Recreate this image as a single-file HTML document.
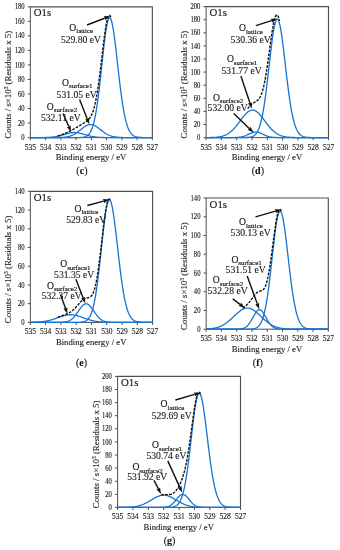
<!DOCTYPE html>
<html><head><meta charset="utf-8"><title>O1s XPS spectra</title>
<style>
html,body{margin:0;padding:0;background:#fff;}
body{width:340px;height:550px;overflow:hidden;}
svg{display:block;font-family:"Liberation Serif",serif;}
text{stroke:#1a1a1a;stroke-width:0.12px;}
tspan.s{stroke-width:0.2px;}
</style></head><body>
<svg width="340" height="550" viewBox="0 0 340 550">
<rect width="340" height="550" fill="#fff"/>
<g>
<path d="M30.35 6.8H152.35V137.6" fill="none" stroke="#505050" stroke-width="1.15"/>
<path d="M30.35 6.4V137.6H152.35" fill="none" stroke="#4d4d4d" stroke-width="1"/>
<path d="M27.75 137.6H30.35M27.75 123.07H30.35M27.75 108.53H30.35M27.75 94H30.35M27.75 79.47H30.35M27.75 64.93H30.35M27.75 50.4H30.35M27.75 35.87H30.35M27.75 21.33H30.35M27.75 6.8H30.35M30.35 137.6V140.2M45.6 137.6V140.2M60.85 137.6V140.2M76.1 137.6V140.2M91.35 137.6V140.2M106.6 137.6V140.2M121.85 137.6V140.2M137.1 137.6V140.2M152.35 137.6V140.2" fill="none" stroke="#4d4d4d" stroke-width="1"/>
<g fill="#1a1a1a">
<g text-anchor="end" font-size="7.45">
<text transform="translate(24.65 140.2) scale(.895 1)">0</text>
<text transform="translate(24.65 125.67) scale(.895 1)">20</text>
<text transform="translate(24.65 111.13) scale(.895 1)">40</text>
<text transform="translate(24.65 96.6) scale(.895 1)">60</text>
<text transform="translate(24.65 82.07) scale(.895 1)">80</text>
<text transform="translate(24.65 67.53) scale(.895 1)">100</text>
<text transform="translate(24.65 53) scale(.895 1)">120</text>
<text transform="translate(24.65 38.47) scale(.895 1)">140</text>
<text transform="translate(24.65 23.93) scale(.895 1)">160</text>
<text transform="translate(24.65 9.4) scale(.895 1)">180</text>
</g><g text-anchor="middle" font-size="7.5">
<text x="30.35" y="149.55">535</text>
<text x="45.6" y="149.55">534</text>
<text x="60.85" y="149.55">533</text>
<text x="76.1" y="149.55">532</text>
<text x="91.35" y="149.55">531</text>
<text x="106.6" y="149.55">530</text>
<text x="121.85" y="149.55">529</text>
<text x="137.1" y="149.55">528</text>
<text x="152.35" y="149.55">527</text>
</g></g>
<text x="91.05" y="160.2" text-anchor="middle" font-size="8.7" fill="#1a1a1a">Binding energy / eV</text>
<text transform="translate(11.25 84.7) rotate(-90)" text-anchor="middle" font-size="8.85" fill="#1a1a1a">Counts / s×10<tspan font-size="5.4" dy="-3">3</tspan><tspan dy="3"> (Residuals x 5)</tspan></text>
<text x="33.75" y="16.3" font-size="10.8" fill="#1a1a1a">O1s</text>
<text x="81.9" y="174.1" text-anchor="middle" font-size="10" fill="#111">(<tspan font-weight="bold">c</tspan>)</text>
<path d="M30.35 137.6 L30.96 137.6 L31.57 137.6 L32.18 137.6 L32.79 137.6 L33.4 137.6 L34.01 137.6 L34.62 137.6 L35.23 137.6 L35.84 137.6 L36.45 137.6 L37.06 137.6 L37.67 137.6 L38.28 137.6 L38.89 137.6 L39.5 137.6 L40.11 137.6 L40.72 137.6 L41.33 137.6 L41.94 137.6 L42.55 137.6 L43.16 137.6 L43.77 137.6 L44.38 137.6 L44.99 137.6 L45.6 137.6 L46.21 137.6 L46.82 137.6 L47.43 137.6 L48.04 137.6 L48.65 137.6 L49.26 137.6 L49.87 137.6 L50.48 137.6 L51.09 137.6 L51.7 137.6 L52.31 137.6 L52.92 137.6 L53.53 137.6 L54.14 137.6 L54.75 137.6 L55.36 137.6 L55.97 137.6 L56.58 137.6 L57.19 137.6 L57.8 137.6 L58.41 137.6 L59.02 137.6 L59.63 137.6 L60.24 137.6 L60.85 137.6 L61.46 137.6 L62.07 137.6 L62.68 137.6 L63.29 137.6 L63.9 137.6 L64.51 137.6 L65.12 137.6 L65.73 137.6 L66.34 137.6 L66.95 137.6 L67.56 137.6 L68.17 137.6 L68.78 137.6 L69.39 137.6 L70 137.6 L70.61 137.6 L71.22 137.6 L71.83 137.6 L72.44 137.6 L73.05 137.6 L73.66 137.6 L74.27 137.6 L74.88 137.59 L75.49 137.59 L76.1 137.59 L76.71 137.58 L77.32 137.58 L77.93 137.57 L78.54 137.56 L79.15 137.55 L79.76 137.53 L80.37 137.5 L80.98 137.47 L81.59 137.42 L82.2 137.37 L82.81 137.29 L83.42 137.2 L84.03 137.08 L84.64 136.92 L85.25 136.73 L85.86 136.49 L86.47 136.2 L87.08 135.83 L87.69 135.39 L88.3 134.85 L88.91 134.19 L89.52 133.41 L90.13 132.49 L90.74 131.39 L91.35 130.11 L91.96 128.61 L92.57 126.89 L93.18 124.91 L93.79 122.66 L94.4 120.12 L95.01 117.27 L95.62 114.1 L96.23 110.61 L96.84 106.78 L97.45 102.63 L98.06 98.17 L98.67 93.41 L99.28 88.38 L99.89 83.11 L100.5 77.65 L101.11 72.05 L101.72 66.36 L102.33 60.66 L102.94 55.01 L103.55 49.49 L104.16 44.18 L104.77 39.16 L105.38 34.5 L105.99 30.29 L106.6 26.59 L107.21 23.47 L107.82 20.98 L108.43 19.17 L109.04 18.07 L109.65 17.7 L110.26 18.05 L110.87 19.09 L111.48 20.81 L112.09 23.17 L112.7 26.13 L113.31 29.64 L113.92 33.64 L114.53 38.06 L115.14 42.83 L115.75 47.88 L116.36 53.13 L116.97 58.52 L117.58 63.96 L118.19 69.4 L118.8 74.78 L119.41 80.04 L120.02 85.14 L120.63 90.04 L121.24 94.7 L121.85 99.1 L122.46 103.22 L123.07 107.06 L123.68 110.6 L124.29 113.85 L124.9 116.8 L125.51 119.48 L126.12 121.89 L126.73 124.04 L127.34 125.96 L127.95 127.64 L128.56 129.13 L129.17 130.42 L129.78 131.55 L130.39 132.52 L131 133.36 L131.61 134.07 L132.22 134.68 L132.83 135.19 L133.44 135.62 L134.05 135.98 L134.66 136.28 L135.27 136.53 L135.88 136.74 L136.49 136.91 L137.1 137.05 L137.71 137.16 L138.32 137.25 L138.93 137.33 L139.54 137.38 L140.15 137.43 L140.76 137.47 L141.37 137.5 L141.98 137.52 L142.59 137.54 L143.2 137.55 L143.81 137.56 L144.42 137.57 L145.03 137.58 L145.64 137.58 L146.25 137.59 L146.86 137.59 L147.47 137.59 L148.08 137.6 L148.69 137.6 L149.3 137.6 L149.91 137.6 L150.52 137.6 L151.13 137.6 L151.74 137.6 L152.35 137.6" fill="none" stroke="#1573d3" stroke-width="1.3" stroke-linejoin="round"/>
<path d="M30.35 137.6 L30.96 137.6 L31.57 137.6 L32.18 137.6 L32.79 137.6 L33.4 137.6 L34.01 137.6 L34.62 137.6 L35.23 137.6 L35.84 137.6 L36.45 137.6 L37.06 137.6 L37.67 137.6 L38.28 137.6 L38.89 137.6 L39.5 137.6 L40.11 137.6 L40.72 137.6 L41.33 137.6 L41.94 137.6 L42.55 137.6 L43.16 137.6 L43.77 137.6 L44.38 137.6 L44.99 137.6 L45.6 137.6 L46.21 137.6 L46.82 137.6 L47.43 137.6 L48.04 137.6 L48.65 137.6 L49.26 137.6 L49.87 137.6 L50.48 137.6 L51.09 137.59 L51.7 137.59 L52.31 137.59 L52.92 137.59 L53.53 137.59 L54.14 137.58 L54.75 137.58 L55.36 137.57 L55.97 137.57 L56.58 137.56 L57.19 137.55 L57.8 137.54 L58.41 137.53 L59.02 137.51 L59.63 137.49 L60.24 137.47 L60.85 137.45 L61.46 137.42 L62.07 137.38 L62.68 137.34 L63.29 137.29 L63.9 137.24 L64.51 137.17 L65.12 137.1 L65.73 137.02 L66.34 136.92 L66.95 136.82 L67.56 136.7 L68.17 136.56 L68.78 136.41 L69.39 136.25 L70 136.06 L70.61 135.86 L71.22 135.63 L71.83 135.39 L72.44 135.12 L73.05 134.84 L73.66 134.53 L74.27 134.2 L74.88 133.84 L75.49 133.47 L76.1 133.08 L76.71 132.66 L77.32 132.23 L77.93 131.79 L78.54 131.33 L79.15 130.86 L79.76 130.38 L80.37 129.89 L80.98 129.41 L81.59 128.92 L82.2 128.44 L82.81 127.97 L83.42 127.52 L84.03 127.08 L84.64 126.67 L85.25 126.28 L85.86 125.92 L86.47 125.6 L87.08 125.31 L87.69 125.07 L88.3 124.86 L88.91 124.71 L89.52 124.6 L90.13 124.53 L90.74 124.52 L91.35 124.56 L91.96 124.64 L92.57 124.78 L93.18 124.96 L93.79 125.18 L94.4 125.45 L95.01 125.76 L95.62 126.1 L96.23 126.47 L96.84 126.87 L97.45 127.3 L98.06 127.74 L98.67 128.21 L99.28 128.68 L99.89 129.16 L100.5 129.65 L101.11 130.13 L101.72 130.62 L102.33 131.09 L102.94 131.56 L103.55 132.01 L104.16 132.45 L104.77 132.87 L105.38 133.28 L105.99 133.66 L106.6 134.02 L107.21 134.36 L107.82 134.68 L108.43 134.98 L109.04 135.26 L109.65 135.51 L110.26 135.75 L110.87 135.96 L111.48 136.15 L112.09 136.33 L112.7 136.49 L113.31 136.63 L113.92 136.76 L114.53 136.87 L115.14 136.97 L115.75 137.06 L116.36 137.14 L116.97 137.21 L117.58 137.27 L118.19 137.32 L118.8 137.36 L119.41 137.4 L120.02 137.43 L120.63 137.46 L121.24 137.48 L121.85 137.5 L122.46 137.52 L123.07 137.53 L123.68 137.55 L124.29 137.56 L124.9 137.56 L125.51 137.57 L126.12 137.58 L126.73 137.58 L127.34 137.58 L127.95 137.59 L128.56 137.59 L129.17 137.59 L129.78 137.59 L130.39 137.6 L131 137.6 L131.61 137.6 L132.22 137.6 L132.83 137.6 L133.44 137.6 L134.05 137.6 L134.66 137.6 L135.27 137.6 L135.88 137.6 L136.49 137.6 L137.1 137.6 L137.71 137.6 L138.32 137.6 L138.93 137.6 L139.54 137.6 L140.15 137.6 L140.76 137.6 L141.37 137.6 L141.98 137.6 L142.59 137.6 L143.2 137.6 L143.81 137.6 L144.42 137.6 L145.03 137.6 L145.64 137.6 L146.25 137.6 L146.86 137.6 L147.47 137.6 L148.08 137.6 L148.69 137.6 L149.3 137.6 L149.91 137.6 L150.52 137.6 L151.13 137.6 L151.74 137.6 L152.35 137.6" fill="none" stroke="#1573d3" stroke-width="1.3" stroke-linejoin="round"/>
<path d="M30.35 137.6 L30.96 137.6 L31.57 137.6 L32.18 137.6 L32.79 137.6 L33.4 137.6 L34.01 137.6 L34.62 137.6 L35.23 137.6 L35.84 137.6 L36.45 137.59 L37.06 137.59 L37.67 137.59 L38.28 137.59 L38.89 137.59 L39.5 137.58 L40.11 137.58 L40.72 137.58 L41.33 137.57 L41.94 137.56 L42.55 137.56 L43.16 137.55 L43.77 137.54 L44.38 137.53 L44.99 137.51 L45.6 137.5 L46.21 137.48 L46.82 137.46 L47.43 137.44 L48.04 137.41 L48.65 137.38 L49.26 137.35 L49.87 137.31 L50.48 137.26 L51.09 137.21 L51.7 137.16 L52.31 137.1 L52.92 137.03 L53.53 136.96 L54.14 136.88 L54.75 136.79 L55.36 136.69 L55.97 136.59 L56.58 136.48 L57.19 136.36 L57.8 136.23 L58.41 136.09 L59.02 135.95 L59.63 135.8 L60.24 135.64 L60.85 135.48 L61.46 135.31 L62.07 135.14 L62.68 134.96 L63.29 134.78 L63.9 134.6 L64.51 134.41 L65.12 134.23 L65.73 134.05 L66.34 133.87 L66.95 133.7 L67.56 133.53 L68.17 133.38 L68.78 133.23 L69.39 133.09 L70 132.97 L70.61 132.85 L71.22 132.76 L71.83 132.67 L72.44 132.61 L73.05 132.56 L73.66 132.53 L74.27 132.51 L74.88 132.52 L75.49 132.54 L76.1 132.58 L76.71 132.64 L77.32 132.71 L77.93 132.8 L78.54 132.91 L79.15 133.03 L79.76 133.16 L80.37 133.3 L80.98 133.45 L81.59 133.62 L82.2 133.79 L82.81 133.96 L83.42 134.14 L84.03 134.32 L84.64 134.5 L85.25 134.69 L85.86 134.87 L86.47 135.05 L87.08 135.22 L87.69 135.4 L88.3 135.56 L88.91 135.72 L89.52 135.88 L90.13 136.02 L90.74 136.16 L91.35 136.29 L91.96 136.42 L92.57 136.53 L93.18 136.64 L93.79 136.74 L94.4 136.83 L95.01 136.92 L95.62 136.99 L96.23 137.07 L96.84 137.13 L97.45 137.19 L98.06 137.24 L98.67 137.28 L99.28 137.33 L99.89 137.36 L100.5 137.4 L101.11 137.42 L101.72 137.45 L102.33 137.47 L102.94 137.49 L103.55 137.51 L104.16 137.52 L104.77 137.53 L105.38 137.54 L105.99 137.55 L106.6 137.56 L107.21 137.57 L107.82 137.57 L108.43 137.58 L109.04 137.58 L109.65 137.59 L110.26 137.59 L110.87 137.59 L111.48 137.59 L112.09 137.59 L112.7 137.59 L113.31 137.6 L113.92 137.6 L114.53 137.6 L115.14 137.6 L115.75 137.6 L116.36 137.6 L116.97 137.6 L117.58 137.6 L118.19 137.6 L118.8 137.6 L119.41 137.6 L120.02 137.6 L120.63 137.6 L121.24 137.6 L121.85 137.6 L122.46 137.6 L123.07 137.6 L123.68 137.6 L124.29 137.6 L124.9 137.6 L125.51 137.6 L126.12 137.6 L126.73 137.6 L127.34 137.6 L127.95 137.6 L128.56 137.6 L129.17 137.6 L129.78 137.6 L130.39 137.6 L131 137.6 L131.61 137.6 L132.22 137.6 L132.83 137.6 L133.44 137.6 L134.05 137.6 L134.66 137.6 L135.27 137.6 L135.88 137.6 L136.49 137.6 L137.1 137.6 L137.71 137.6 L138.32 137.6 L138.93 137.6 L139.54 137.6 L140.15 137.6 L140.76 137.6 L141.37 137.6 L141.98 137.6 L142.59 137.6 L143.2 137.6 L143.81 137.6 L144.42 137.6 L145.03 137.6 L145.64 137.6 L146.25 137.6 L146.86 137.6 L147.47 137.6 L148.08 137.6 L148.69 137.6 L149.3 137.6 L149.91 137.6 L150.52 137.6 L151.13 137.6 L151.74 137.6 L152.35 137.6" fill="none" stroke="#1573d3" stroke-width="1.3" stroke-linejoin="round"/>
<path d="M57.75 135.87 L58.36 135.72 L58.97 135.56 L59.58 135.39 L60.19 135.22 L60.8 135.03 L61.41 134.83 L62.02 134.62 L62.63 134.4 L63.24 134.17 L63.85 133.93 L64.46 133.69 L65.07 133.43 L65.68 133.17 L66.29 132.9 L66.9 132.62 L67.51 132.33 L68.12 132.04 L68.73 131.74 L69.34 131.44 L69.95 131.13 L70.56 130.81 L71.17 130.49 L71.78 130.16 L72.39 129.83 L73 129.49 L73.61 129.15 L74.22 128.81 L74.83 128.46 L75.44 128.1 L76.05 127.75 L76.66 127.39 L77.27 127.03 L77.88 126.66 L78.49 126.3 L79.1 125.93 L79.71 125.56 L80.32 125.19 L80.93 124.83 L81.54 124.46 L82.15 124.09 L82.76 123.73 L83.37 123.35 L83.98 122.98 L84.59 122.6 L85.2 122.2 L85.81 121.78 L86.42 121.34 L87.03 120.87 L87.64 120.35 L88.25 119.77 L88.86 119.12 L89.47 118.39 L90.08 117.54 L90.69 116.57 L91.3 115.46 L91.91 114.17 L92.52 112.7 L93.13 111.01 L93.74 109.08 L94.35 106.9 L94.96 104.44 L95.57 101.69 L96.18 98.64 L96.79 95.28 L97.4 91.62 L98.01 87.65 L98.62 83.4 L99.23 78.88 L99.84 74.14 L100.45 69.19 L101.06 64.11 L101.67 58.93 L102.28 53.72 L102.89 48.56 L103.5 43.51 L104.11 38.65 L104.72 34.06 L105.33 29.82 L105.94 26 L106.55 22.67 L107.16 19.9 L107.77 17.74 L108.38 16.23 L108.99 15.41 L109.6 15.3 L110.21 15.88 L110.82 17.14" fill="none" stroke="#111" stroke-width="1.4" stroke-dasharray="2.7 1.25"/>
<text x="69.3" y="30.7" font-size="9.6" fill="#1a1a1a">O<tspan class="s" font-size="6.9" dy="2.7">lattice</tspan></text>
<text x="60.9" y="42.6" font-size="9.65" fill="#1a1a1a">529.80 eV</text>
<path d="M87 25L104.54 18.24" stroke="#111" stroke-width="1.4" fill="none"/>
<path d="M110.14 16.08L105.26 20.1L103.82 16.37Z" fill="#111"/>
<text x="62.1" y="85.7" font-size="9.6" fill="#1a1a1a">O<tspan class="s" font-size="6.9" dy="2.7">surface1</tspan></text>
<text x="56.6" y="97.5" font-size="9.65" fill="#1a1a1a">531.05 eV</text>
<path d="M79.6 99.5L87.13 118.65" stroke="#111" stroke-width="1.4" fill="none"/>
<path d="M89.33 124.24L85.27 119.39L88.99 117.92Z" fill="#111"/>
<text x="46.8" y="109.7" font-size="9.6" fill="#1a1a1a">O<tspan class="s" font-size="6.9" dy="2.7">surface2</tspan></text>
<text x="40.9" y="120.7" font-size="9.65" fill="#1a1a1a">532.11 eV</text>
<path d="M63 113.5L68.72 126.34" stroke="#111" stroke-width="1.4" fill="none"/>
<path d="M71.17 131.82L66.9 127.16L70.55 125.53Z" fill="#111"/>
</g>
<g>
<path d="M206.1 6.6H328.5V137.6" fill="none" stroke="#505050" stroke-width="1.15"/>
<path d="M206.1 6.2V137.6H328.5" fill="none" stroke="#4d4d4d" stroke-width="1"/>
<path d="M203.5 137.6H206.1M203.5 124.5H206.1M203.5 111.4H206.1M203.5 98.3H206.1M203.5 85.2H206.1M203.5 72.1H206.1M203.5 59H206.1M203.5 45.9H206.1M203.5 32.8H206.1M203.5 19.7H206.1M203.5 6.6H206.1M206.1 137.6V140.2M221.4 137.6V140.2M236.7 137.6V140.2M252 137.6V140.2M267.3 137.6V140.2M282.6 137.6V140.2M297.9 137.6V140.2M313.2 137.6V140.2M328.5 137.6V140.2" fill="none" stroke="#4d4d4d" stroke-width="1"/>
<g fill="#1a1a1a">
<g text-anchor="end" font-size="7.45">
<text transform="translate(200.4 140.2) scale(.895 1)">0</text>
<text transform="translate(200.4 127.1) scale(.895 1)">20</text>
<text transform="translate(200.4 114) scale(.895 1)">40</text>
<text transform="translate(200.4 100.9) scale(.895 1)">60</text>
<text transform="translate(200.4 87.8) scale(.895 1)">80</text>
<text transform="translate(200.4 74.7) scale(.895 1)">100</text>
<text transform="translate(200.4 61.6) scale(.895 1)">120</text>
<text transform="translate(200.4 48.5) scale(.895 1)">140</text>
<text transform="translate(200.4 35.4) scale(.895 1)">160</text>
<text transform="translate(200.4 22.3) scale(.895 1)">180</text>
<text transform="translate(200.4 9.2) scale(.895 1)">200</text>
</g><g text-anchor="middle" font-size="7.5">
<text x="206.1" y="149.55">535</text>
<text x="221.4" y="149.55">534</text>
<text x="236.7" y="149.55">533</text>
<text x="252" y="149.55">532</text>
<text x="267.3" y="149.55">531</text>
<text x="282.6" y="149.55">530</text>
<text x="297.9" y="149.55">529</text>
<text x="313.2" y="149.55">528</text>
<text x="328.5" y="149.55">527</text>
</g></g>
<text x="267" y="160.2" text-anchor="middle" font-size="8.7" fill="#1a1a1a">Binding energy / eV</text>
<text transform="translate(187 84.6) rotate(-90)" text-anchor="middle" font-size="8.85" fill="#1a1a1a">Counts / s×10<tspan font-size="5.4" dy="-3">3</tspan><tspan dy="3"> (Residuals x 5)</tspan></text>
<text x="209.5" y="16.1" font-size="10.8" fill="#1a1a1a">O1s</text>
<text x="257.9" y="174.1" text-anchor="middle" font-size="10" fill="#111">(<tspan font-weight="bold">d</tspan>)</text>
<path d="M206.1 137.6 L206.71 137.6 L207.32 137.6 L207.94 137.6 L208.55 137.6 L209.16 137.6 L209.77 137.6 L210.38 137.6 L211 137.6 L211.61 137.6 L212.22 137.6 L212.83 137.6 L213.44 137.6 L214.06 137.6 L214.67 137.6 L215.28 137.6 L215.89 137.6 L216.5 137.6 L217.12 137.6 L217.73 137.6 L218.34 137.6 L218.95 137.6 L219.56 137.6 L220.18 137.6 L220.79 137.6 L221.4 137.6 L222.01 137.6 L222.62 137.6 L223.24 137.6 L223.85 137.6 L224.46 137.6 L225.07 137.6 L225.68 137.6 L226.3 137.6 L226.91 137.6 L227.52 137.6 L228.13 137.6 L228.74 137.6 L229.36 137.6 L229.97 137.6 L230.58 137.6 L231.19 137.6 L231.8 137.6 L232.42 137.6 L233.03 137.6 L233.64 137.6 L234.25 137.6 L234.86 137.6 L235.48 137.6 L236.09 137.6 L236.7 137.6 L237.31 137.6 L237.92 137.6 L238.54 137.6 L239.15 137.6 L239.76 137.6 L240.37 137.6 L240.98 137.59 L241.6 137.59 L242.21 137.59 L242.82 137.59 L243.43 137.58 L244.04 137.57 L244.66 137.56 L245.27 137.55 L245.88 137.53 L246.49 137.51 L247.1 137.48 L247.72 137.44 L248.33 137.39 L248.94 137.33 L249.55 137.25 L250.16 137.14 L250.78 137.01 L251.39 136.85 L252 136.65 L252.61 136.41 L253.22 136.11 L253.84 135.74 L254.45 135.29 L255.06 134.76 L255.67 134.12 L256.28 133.36 L256.9 132.46 L257.51 131.41 L258.12 130.19 L258.73 128.78 L259.34 127.15 L259.96 125.3 L260.57 123.2 L261.18 120.84 L261.79 118.2 L262.4 115.27 L263.02 112.05 L263.63 108.53 L264.24 104.7 L264.85 100.59 L265.46 96.2 L266.08 91.55 L266.69 86.66 L267.3 81.58 L267.91 76.34 L268.52 70.99 L269.14 65.58 L269.75 60.17 L270.36 54.83 L270.97 49.62 L271.58 44.61 L272.2 39.88 L272.81 35.48 L273.42 31.49 L274.03 27.97 L274.64 24.97 L275.26 22.55 L275.87 20.74 L276.48 19.57 L277.09 19.07 L277.7 19.23 L278.32 20.07 L278.93 21.56 L279.54 23.67 L280.15 26.38 L280.76 29.62 L281.38 33.36 L281.99 37.52 L282.6 42.04 L283.21 46.86 L283.82 51.9 L284.44 57.1 L285.05 62.38 L285.66 67.69 L286.27 72.96 L286.88 78.15 L287.5 83.19 L288.11 88.07 L288.72 92.73 L289.33 97.15 L289.94 101.32 L290.56 105.22 L291.17 108.83 L291.78 112.17 L292.39 115.23 L293 118.01 L293.62 120.52 L294.23 122.78 L294.84 124.8 L295.45 126.6 L296.06 128.18 L296.68 129.58 L297.29 130.79 L297.9 131.85 L298.51 132.77 L299.12 133.55 L299.74 134.23 L300.35 134.8 L300.96 135.29 L301.57 135.7 L302.18 136.04 L302.8 136.33 L303.41 136.57 L304.02 136.76 L304.63 136.93 L305.24 137.06 L305.86 137.17 L306.47 137.26 L307.08 137.33 L307.69 137.39 L308.3 137.43 L308.92 137.47 L309.53 137.5 L310.14 137.52 L310.75 137.54 L311.36 137.55 L311.98 137.56 L312.59 137.57 L313.2 137.58 L313.81 137.58 L314.42 137.59 L315.04 137.59 L315.65 137.59 L316.26 137.6 L316.87 137.6 L317.48 137.6 L318.1 137.6 L318.71 137.6 L319.32 137.6 L319.93 137.6 L320.54 137.6 L321.16 137.6 L321.77 137.6 L322.38 137.6 L322.99 137.6 L323.6 137.6 L324.22 137.6 L324.83 137.6 L325.44 137.6 L326.05 137.6 L326.66 137.6 L327.28 137.6 L327.89 137.6 L328.5 137.6" fill="none" stroke="#1573d3" stroke-width="1.3" stroke-linejoin="round"/>
<path d="M206.1 137.57 L206.71 137.57 L207.32 137.56 L207.94 137.56 L208.55 137.55 L209.16 137.54 L209.77 137.53 L210.38 137.51 L211 137.5 L211.61 137.48 L212.22 137.46 L212.83 137.43 L213.44 137.4 L214.06 137.37 L214.67 137.34 L215.28 137.29 L215.89 137.25 L216.5 137.19 L217.12 137.13 L217.73 137.06 L218.34 136.98 L218.95 136.89 L219.56 136.79 L220.18 136.68 L220.79 136.56 L221.4 136.42 L222.01 136.26 L222.62 136.09 L223.24 135.91 L223.85 135.7 L224.46 135.47 L225.07 135.23 L225.68 134.96 L226.3 134.66 L226.91 134.34 L227.52 134 L228.13 133.63 L228.74 133.23 L229.36 132.8 L229.97 132.34 L230.58 131.86 L231.19 131.34 L231.8 130.79 L232.42 130.22 L233.03 129.61 L233.64 128.97 L234.25 128.31 L234.86 127.62 L235.48 126.91 L236.09 126.17 L236.7 125.41 L237.31 124.63 L237.92 123.84 L238.54 123.03 L239.15 122.21 L239.76 121.39 L240.37 120.56 L240.98 119.74 L241.6 118.92 L242.21 118.11 L242.82 117.32 L243.43 116.55 L244.04 115.8 L244.66 115.07 L245.27 114.38 L245.88 113.73 L246.49 113.12 L247.1 112.56 L247.72 112.05 L248.33 111.59 L248.94 111.19 L249.55 110.84 L250.16 110.56 L250.78 110.34 L251.39 110.19 L252 110.11 L252.61 110.09 L253.22 110.14 L253.84 110.26 L254.45 110.45 L255.06 110.69 L255.67 111.01 L256.28 111.38 L256.9 111.81 L257.51 112.3 L258.12 112.84 L258.73 113.42 L259.34 114.05 L259.96 114.72 L260.57 115.43 L261.18 116.17 L261.79 116.93 L262.4 117.71 L263.02 118.52 L263.63 119.33 L264.24 120.15 L264.85 120.98 L265.46 121.8 L266.08 122.62 L266.69 123.44 L267.3 124.24 L267.91 125.02 L268.52 125.79 L269.14 126.54 L269.75 127.27 L270.36 127.97 L270.97 128.65 L271.58 129.3 L272.2 129.92 L272.81 130.51 L273.42 131.07 L274.03 131.6 L274.64 132.1 L275.26 132.57 L275.87 133.02 L276.48 133.43 L277.09 133.82 L277.7 134.17 L278.32 134.51 L278.93 134.81 L279.54 135.09 L280.15 135.35 L280.76 135.59 L281.38 135.8 L281.99 136 L282.6 136.18 L283.21 136.34 L283.82 136.49 L284.44 136.62 L285.05 136.74 L285.66 136.84 L286.27 136.94 L286.88 137.02 L287.5 137.09 L288.11 137.16 L288.72 137.22 L289.33 137.27 L289.94 137.32 L290.56 137.35 L291.17 137.39 L291.78 137.42 L292.39 137.45 L293 137.47 L293.62 137.49 L294.23 137.5 L294.84 137.52 L295.45 137.53 L296.06 137.54 L296.68 137.55 L297.29 137.56 L297.9 137.57 L298.51 137.57 L299.12 137.58 L299.74 137.58 L300.35 137.58 L300.96 137.59 L301.57 137.59 L302.18 137.59 L302.8 137.59 L303.41 137.59 L304.02 137.59 L304.63 137.6 L305.24 137.6 L305.86 137.6 L306.47 137.6 L307.08 137.6 L307.69 137.6 L308.3 137.6 L308.92 137.6 L309.53 137.6 L310.14 137.6 L310.75 137.6 L311.36 137.6 L311.98 137.6 L312.59 137.6 L313.2 137.6 L313.81 137.6 L314.42 137.6 L315.04 137.6 L315.65 137.6 L316.26 137.6 L316.87 137.6 L317.48 137.6 L318.1 137.6 L318.71 137.6 L319.32 137.6 L319.93 137.6 L320.54 137.6 L321.16 137.6 L321.77 137.6 L322.38 137.6 L322.99 137.6 L323.6 137.6 L324.22 137.6 L324.83 137.6 L325.44 137.6 L326.05 137.6 L326.66 137.6 L327.28 137.6 L327.89 137.6 L328.5 137.6" fill="none" stroke="#1573d3" stroke-width="1.3" stroke-linejoin="round"/>
<path d="M206.1 137.6 L206.71 137.6 L207.32 137.6 L207.94 137.6 L208.55 137.6 L209.16 137.6 L209.77 137.6 L210.38 137.6 L211 137.6 L211.61 137.6 L212.22 137.6 L212.83 137.6 L213.44 137.6 L214.06 137.6 L214.67 137.6 L215.28 137.6 L215.89 137.6 L216.5 137.6 L217.12 137.6 L217.73 137.6 L218.34 137.6 L218.95 137.6 L219.56 137.6 L220.18 137.6 L220.79 137.6 L221.4 137.6 L222.01 137.6 L222.62 137.6 L223.24 137.6 L223.85 137.6 L224.46 137.6 L225.07 137.6 L225.68 137.6 L226.3 137.6 L226.91 137.6 L227.52 137.6 L228.13 137.6 L228.74 137.6 L229.36 137.59 L229.97 137.59 L230.58 137.59 L231.19 137.59 L231.8 137.58 L232.42 137.58 L233.03 137.57 L233.64 137.56 L234.25 137.54 L234.86 137.53 L235.48 137.51 L236.09 137.48 L236.7 137.45 L237.31 137.41 L237.92 137.37 L238.54 137.31 L239.15 137.25 L239.76 137.17 L240.37 137.08 L240.98 136.98 L241.6 136.86 L242.21 136.72 L242.82 136.57 L243.43 136.4 L244.04 136.21 L244.66 136 L245.27 135.77 L245.88 135.53 L246.49 135.27 L247.1 135 L247.72 134.71 L248.33 134.42 L248.94 134.13 L249.55 133.84 L250.16 133.56 L250.78 133.29 L251.39 133.03 L252 132.79 L252.61 132.58 L253.22 132.4 L253.84 132.25 L254.45 132.14 L255.06 132.07 L255.67 132.03 L256.28 132.04 L256.9 132.1 L257.51 132.19 L258.12 132.32 L258.73 132.48 L259.34 132.68 L259.96 132.91 L260.57 133.15 L261.18 133.42 L261.79 133.7 L262.4 133.99 L263.02 134.28 L263.63 134.57 L264.24 134.86 L264.85 135.13 L265.46 135.4 L266.08 135.65 L266.69 135.88 L267.3 136.1 L267.91 136.3 L268.52 136.48 L269.14 136.65 L269.75 136.79 L270.36 136.92 L270.97 137.03 L271.58 137.13 L272.2 137.21 L272.81 137.28 L273.42 137.34 L274.03 137.39 L274.64 137.43 L275.26 137.47 L275.87 137.5 L276.48 137.52 L277.09 137.54 L277.7 137.55 L278.32 137.56 L278.93 137.57 L279.54 137.58 L280.15 137.58 L280.76 137.59 L281.38 137.59 L281.99 137.59 L282.6 137.6 L283.21 137.6 L283.82 137.6 L284.44 137.6 L285.05 137.6 L285.66 137.6 L286.27 137.6 L286.88 137.6 L287.5 137.6 L288.11 137.6 L288.72 137.6 L289.33 137.6 L289.94 137.6 L290.56 137.6 L291.17 137.6 L291.78 137.6 L292.39 137.6 L293 137.6 L293.62 137.6 L294.23 137.6 L294.84 137.6 L295.45 137.6 L296.06 137.6 L296.68 137.6 L297.29 137.6 L297.9 137.6 L298.51 137.6 L299.12 137.6 L299.74 137.6 L300.35 137.6 L300.96 137.6 L301.57 137.6 L302.18 137.6 L302.8 137.6 L303.41 137.6 L304.02 137.6 L304.63 137.6 L305.24 137.6 L305.86 137.6 L306.47 137.6 L307.08 137.6 L307.69 137.6 L308.3 137.6 L308.92 137.6 L309.53 137.6 L310.14 137.6 L310.75 137.6 L311.36 137.6 L311.98 137.6 L312.59 137.6 L313.2 137.6 L313.81 137.6 L314.42 137.6 L315.04 137.6 L315.65 137.6 L316.26 137.6 L316.87 137.6 L317.48 137.6 L318.1 137.6 L318.71 137.6 L319.32 137.6 L319.93 137.6 L320.54 137.6 L321.16 137.6 L321.77 137.6 L322.38 137.6 L322.99 137.6 L323.6 137.6 L324.22 137.6 L324.83 137.6 L325.44 137.6 L326.05 137.6 L326.66 137.6 L327.28 137.6 L327.89 137.6 L328.5 137.6" fill="none" stroke="#1573d3" stroke-width="1.3" stroke-linejoin="round"/>
<path d="M247.67 108.7 L248.28 107.9 L248.89 107.15 L249.5 106.43 L250.11 105.76 L250.73 105.14 L251.34 104.57 L251.95 104.05 L252.56 103.58 L253.17 103.15 L253.79 102.75 L254.4 102.38 L255.01 102.02 L255.62 101.66 L256.23 101.28 L256.85 100.87 L257.46 100.4 L258.07 99.85 L258.68 99.18 L259.29 98.39 L259.91 97.43 L260.52 96.29 L261.13 94.93 L261.74 93.33 L262.35 91.48 L262.97 89.34 L263.58 86.93 L264.19 84.21 L264.8 81.2 L265.41 77.9 L266.03 74.32 L266.64 70.49 L267.25 66.42 L267.86 62.17 L268.47 57.77 L269.09 53.27 L269.7 48.73 L270.31 44.22 L270.92 39.8 L271.53 35.54 L272.15 31.51 L272.76 27.77 L273.37 24.4 L273.98 21.46 L274.59 19.01 L275.21 17.09 L275.82 15.75 L276.43 15.02 L277.04 14.92 L277.65 15.46 L278.27 16.64 L278.88 18.44 L279.49 20.84" fill="none" stroke="#111" stroke-width="1.4" stroke-dasharray="2.7 1.25"/>
<text x="239" y="31.2" font-size="9.6" fill="#1a1a1a">O<tspan class="s" font-size="6.9" dy="2.7">lattice</tspan></text>
<text x="230.6" y="42.9" font-size="9.65" fill="#1a1a1a">530.36 eV</text>
<path d="M255.9 25.6L271.45 20.57" stroke="#111" stroke-width="1.4" fill="none"/>
<path d="M277.16 18.72L272.06 22.47L270.83 18.67Z" fill="#111"/>
<text x="226.9" y="62.2" font-size="9.6" fill="#1a1a1a">O<tspan class="s" font-size="6.9" dy="2.7">surface1</tspan></text>
<text x="221.5" y="74" font-size="9.65" fill="#1a1a1a">531.77 eV</text>
<path d="M240.9 76L249.88 102.76" stroke="#111" stroke-width="1.4" fill="none"/>
<path d="M251.79 108.45L247.98 103.4L251.77 102.13Z" fill="#111"/>
<text x="212.9" y="100.6" font-size="9.6" fill="#1a1a1a">O<tspan class="s" font-size="6.9" dy="2.7">surface2</tspan></text>
<text x="207.6" y="110.6" font-size="9.65" fill="#1a1a1a">532.00 eV</text>
<path d="M233.8 113.6L249.23 128.46" stroke="#111" stroke-width="1.4" fill="none"/>
<path d="M253.55 132.62L247.84 129.9L250.61 127.02Z" fill="#111"/>
</g>
<g>
<path d="M30.35 191.3H152.6V322.4" fill="none" stroke="#505050" stroke-width="1.15"/>
<path d="M30.35 190.9V322.4H152.6" fill="none" stroke="#4d4d4d" stroke-width="1"/>
<path d="M27.75 322.4H30.35M27.75 303.67H30.35M27.75 284.94H30.35M27.75 266.21H30.35M27.75 247.49H30.35M27.75 228.76H30.35M27.75 210.03H30.35M27.75 191.3H30.35M30.35 322.4V325M45.63 322.4V325M60.91 322.4V325M76.19 322.4V325M91.47 322.4V325M106.76 322.4V325M122.04 322.4V325M137.32 322.4V325M152.6 322.4V325" fill="none" stroke="#4d4d4d" stroke-width="1"/>
<g fill="#1a1a1a">
<g text-anchor="end" font-size="7.45">
<text transform="translate(24.65 325) scale(.895 1)">0</text>
<text transform="translate(24.65 306.27) scale(.895 1)">20</text>
<text transform="translate(24.65 287.54) scale(.895 1)">40</text>
<text transform="translate(24.65 268.81) scale(.895 1)">60</text>
<text transform="translate(24.65 250.09) scale(.895 1)">80</text>
<text transform="translate(24.65 231.36) scale(.895 1)">100</text>
<text transform="translate(24.65 212.63) scale(.895 1)">120</text>
<text transform="translate(24.65 193.9) scale(.895 1)">140</text>
</g><g text-anchor="middle" font-size="7.5">
<text x="30.35" y="334.35">535</text>
<text x="45.63" y="334.35">534</text>
<text x="60.91" y="334.35">533</text>
<text x="76.19" y="334.35">532</text>
<text x="91.47" y="334.35">531</text>
<text x="106.76" y="334.35">530</text>
<text x="122.04" y="334.35">529</text>
<text x="137.32" y="334.35">528</text>
<text x="152.6" y="334.35">527</text>
</g></g>
<text x="91.17" y="345" text-anchor="middle" font-size="8.7" fill="#1a1a1a">Binding energy / eV</text>
<text transform="translate(11.25 269.35) rotate(-90)" text-anchor="middle" font-size="8.85" fill="#1a1a1a">Counts / s×10<tspan font-size="5.4" dy="-3">3</tspan><tspan dy="3"> (Residuals x 5)</tspan></text>
<text x="33.75" y="200.8" font-size="10.8" fill="#1a1a1a">O1s</text>
<text x="81.6" y="366.2" text-anchor="middle" font-size="10" fill="#111">(<tspan font-weight="bold">e</tspan>)</text>
<path d="M30.35 322.4 L30.96 322.4 L31.57 322.4 L32.18 322.4 L32.79 322.4 L33.41 322.4 L34.02 322.4 L34.63 322.4 L35.24 322.4 L35.85 322.4 L36.46 322.4 L37.07 322.4 L37.69 322.4 L38.3 322.4 L38.91 322.4 L39.52 322.4 L40.13 322.4 L40.74 322.4 L41.35 322.4 L41.96 322.4 L42.57 322.4 L43.19 322.4 L43.8 322.4 L44.41 322.4 L45.02 322.4 L45.63 322.4 L46.24 322.4 L46.85 322.4 L47.47 322.4 L48.08 322.4 L48.69 322.4 L49.3 322.4 L49.91 322.4 L50.52 322.4 L51.13 322.4 L51.74 322.4 L52.36 322.4 L52.97 322.4 L53.58 322.4 L54.19 322.4 L54.8 322.4 L55.41 322.4 L56.02 322.4 L56.63 322.4 L57.24 322.4 L57.86 322.4 L58.47 322.4 L59.08 322.4 L59.69 322.4 L60.3 322.4 L60.91 322.4 L61.52 322.4 L62.14 322.4 L62.75 322.4 L63.36 322.4 L63.97 322.4 L64.58 322.4 L65.19 322.4 L65.8 322.4 L66.41 322.4 L67.02 322.4 L67.64 322.4 L68.25 322.4 L68.86 322.4 L69.47 322.4 L70.08 322.4 L70.69 322.4 L71.3 322.4 L71.92 322.4 L72.53 322.4 L73.14 322.4 L73.75 322.4 L74.36 322.39 L74.97 322.39 L75.58 322.39 L76.19 322.38 L76.8 322.37 L77.42 322.36 L78.03 322.35 L78.64 322.33 L79.25 322.31 L79.86 322.28 L80.47 322.24 L81.08 322.19 L81.7 322.13 L82.31 322.04 L82.92 321.93 L83.53 321.8 L84.14 321.63 L84.75 321.42 L85.36 321.16 L85.97 320.83 L86.58 320.44 L87.2 319.96 L87.81 319.38 L88.42 318.68 L89.03 317.85 L89.64 316.87 L90.25 315.72 L90.86 314.38 L91.47 312.82 L92.09 311.03 L92.7 308.99 L93.31 306.67 L93.92 304.06 L94.53 301.14 L95.14 297.91 L95.75 294.35 L96.37 290.47 L96.98 286.26 L97.59 281.75 L98.2 276.94 L98.81 271.87 L99.42 266.56 L100.03 261.06 L100.64 255.43 L101.25 249.71 L101.87 243.97 L102.48 238.28 L103.09 232.71 L103.7 227.34 L104.31 222.25 L104.92 217.52 L105.53 213.21 L106.15 209.4 L106.76 206.16 L107.37 203.53 L107.98 201.56 L108.59 200.3 L109.2 199.75 L109.81 199.92 L110.42 200.76 L111.03 202.25 L111.65 204.37 L112.26 207.09 L112.87 210.36 L113.48 214.12 L114.09 218.32 L114.7 222.89 L115.31 227.76 L115.93 232.87 L116.54 238.14 L117.15 243.51 L117.76 248.92 L118.37 254.3 L118.98 259.61 L119.59 264.79 L120.2 269.81 L120.81 274.62 L121.43 279.2 L122.04 283.53 L122.65 287.6 L123.26 291.38 L123.87 294.88 L124.48 298.1 L125.09 301.04 L125.71 303.71 L126.32 306.11 L126.93 308.28 L127.54 310.2 L128.15 311.92 L128.76 313.43 L129.37 314.75 L129.98 315.91 L130.59 316.92 L131.21 317.79 L131.82 318.54 L132.43 319.18 L133.04 319.72 L133.65 320.18 L134.26 320.57 L134.87 320.9 L135.48 321.18 L136.1 321.4 L136.71 321.59 L137.32 321.75 L137.93 321.88 L138.54 321.98 L139.15 322.07 L139.76 322.13 L140.38 322.19 L140.99 322.23 L141.6 322.27 L142.21 322.3 L142.82 322.32 L143.43 322.34 L144.04 322.35 L144.65 322.36 L145.26 322.37 L145.88 322.38 L146.49 322.38 L147.1 322.39 L147.71 322.39 L148.32 322.39 L148.93 322.39 L149.54 322.4 L150.16 322.4 L150.77 322.4 L151.38 322.4 L151.99 322.4 L152.6 322.4" fill="none" stroke="#1573d3" stroke-width="1.3" stroke-linejoin="round"/>
<path d="M30.35 322.4 L30.96 322.4 L31.57 322.4 L32.18 322.4 L32.79 322.4 L33.41 322.4 L34.02 322.4 L34.63 322.4 L35.24 322.4 L35.85 322.4 L36.46 322.4 L37.07 322.4 L37.69 322.4 L38.3 322.4 L38.91 322.4 L39.52 322.4 L40.13 322.4 L40.74 322.4 L41.35 322.4 L41.96 322.4 L42.57 322.4 L43.19 322.4 L43.8 322.4 L44.41 322.4 L45.02 322.4 L45.63 322.4 L46.24 322.4 L46.85 322.4 L47.47 322.4 L48.08 322.4 L48.69 322.4 L49.3 322.4 L49.91 322.4 L50.52 322.4 L51.13 322.4 L51.74 322.4 L52.36 322.4 L52.97 322.4 L53.58 322.4 L54.19 322.4 L54.8 322.39 L55.41 322.39 L56.02 322.39 L56.63 322.39 L57.24 322.38 L57.86 322.38 L58.47 322.37 L59.08 322.36 L59.69 322.34 L60.3 322.33 L60.91 322.31 L61.52 322.28 L62.14 322.25 L62.75 322.21 L63.36 322.15 L63.97 322.09 L64.58 322.02 L65.19 321.92 L65.8 321.81 L66.41 321.68 L67.02 321.52 L67.64 321.34 L68.25 321.12 L68.86 320.87 L69.47 320.58 L70.08 320.25 L70.69 319.87 L71.3 319.45 L71.92 318.98 L72.53 318.46 L73.14 317.88 L73.75 317.26 L74.36 316.58 L74.97 315.85 L75.58 315.08 L76.19 314.27 L76.8 313.43 L77.42 312.56 L78.03 311.67 L78.64 310.78 L79.25 309.89 L79.86 309.01 L80.47 308.16 L81.08 307.36 L81.7 306.61 L82.31 305.92 L82.92 305.31 L83.53 304.8 L84.14 304.37 L84.75 304.06 L85.36 303.86 L85.97 303.77 L86.58 303.8 L87.2 303.94 L87.81 304.2 L88.42 304.57 L89.03 305.04 L89.64 305.61 L90.25 306.25 L90.86 306.97 L91.47 307.76 L92.09 308.58 L92.7 309.45 L93.31 310.33 L93.92 311.22 L94.53 312.12 L95.14 313 L95.75 313.85 L96.37 314.68 L96.98 315.47 L97.59 316.22 L98.2 316.92 L98.81 317.58 L99.42 318.18 L100.03 318.73 L100.64 319.22 L101.25 319.67 L101.87 320.07 L102.48 320.42 L103.09 320.73 L103.7 321 L104.31 321.23 L104.92 321.43 L105.53 321.6 L106.15 321.75 L106.76 321.87 L107.37 321.97 L107.98 322.06 L108.59 322.12 L109.2 322.18 L109.81 322.23 L110.42 322.26 L111.03 322.29 L111.65 322.32 L112.26 322.34 L112.87 322.35 L113.48 322.36 L114.09 322.37 L114.7 322.38 L115.31 322.38 L115.93 322.39 L116.54 322.39 L117.15 322.39 L117.76 322.4 L118.37 322.4 L118.98 322.4 L119.59 322.4 L120.2 322.4 L120.81 322.4 L121.43 322.4 L122.04 322.4 L122.65 322.4 L123.26 322.4 L123.87 322.4 L124.48 322.4 L125.09 322.4 L125.71 322.4 L126.32 322.4 L126.93 322.4 L127.54 322.4 L128.15 322.4 L128.76 322.4 L129.37 322.4 L129.98 322.4 L130.59 322.4 L131.21 322.4 L131.82 322.4 L132.43 322.4 L133.04 322.4 L133.65 322.4 L134.26 322.4 L134.87 322.4 L135.48 322.4 L136.1 322.4 L136.71 322.4 L137.32 322.4 L137.93 322.4 L138.54 322.4 L139.15 322.4 L139.76 322.4 L140.38 322.4 L140.99 322.4 L141.6 322.4 L142.21 322.4 L142.82 322.4 L143.43 322.4 L144.04 322.4 L144.65 322.4 L145.26 322.4 L145.88 322.4 L146.49 322.4 L147.1 322.4 L147.71 322.4 L148.32 322.4 L148.93 322.4 L149.54 322.4 L150.16 322.4 L150.77 322.4 L151.38 322.4 L151.99 322.4 L152.6 322.4" fill="none" stroke="#1573d3" stroke-width="1.3" stroke-linejoin="round"/>
<path d="M30.35 322.34 L30.96 322.33 L31.57 322.32 L32.18 322.31 L32.79 322.29 L33.41 322.28 L34.02 322.26 L34.63 322.24 L35.24 322.22 L35.85 322.19 L36.46 322.17 L37.07 322.14 L37.69 322.1 L38.3 322.07 L38.91 322.02 L39.52 321.98 L40.13 321.93 L40.74 321.87 L41.35 321.81 L41.96 321.75 L42.57 321.67 L43.19 321.6 L43.8 321.51 L44.41 321.42 L45.02 321.33 L45.63 321.22 L46.24 321.11 L46.85 320.99 L47.47 320.86 L48.08 320.73 L48.69 320.59 L49.3 320.44 L49.91 320.28 L50.52 320.12 L51.13 319.94 L51.74 319.76 L52.36 319.58 L52.97 319.39 L53.58 319.19 L54.19 318.98 L54.8 318.77 L55.41 318.56 L56.02 318.34 L56.63 318.13 L57.24 317.91 L57.86 317.68 L58.47 317.46 L59.08 317.24 L59.69 317.03 L60.3 316.81 L60.91 316.6 L61.52 316.4 L62.14 316.2 L62.75 316.01 L63.36 315.83 L63.97 315.66 L64.58 315.51 L65.19 315.36 L65.8 315.23 L66.41 315.11 L67.02 315 L67.64 314.92 L68.25 314.84 L68.86 314.79 L69.47 314.75 L70.08 314.73 L70.69 314.72 L71.3 314.73 L71.92 314.77 L72.53 314.81 L73.14 314.88 L73.75 314.96 L74.36 315.05 L74.97 315.17 L75.58 315.29 L76.19 315.43 L76.8 315.58 L77.42 315.75 L78.03 315.92 L78.64 316.11 L79.25 316.3 L79.86 316.5 L80.47 316.71 L81.08 316.92 L81.7 317.13 L82.31 317.35 L82.92 317.57 L83.53 317.79 L84.14 318.02 L84.75 318.24 L85.36 318.45 L85.97 318.67 L86.58 318.88 L87.2 319.09 L87.81 319.29 L88.42 319.48 L89.03 319.67 L89.64 319.85 L90.25 320.03 L90.86 320.2 L91.47 320.36 L92.09 320.51 L92.7 320.66 L93.31 320.8 L93.92 320.93 L94.53 321.05 L95.14 321.17 L95.75 321.27 L96.37 321.38 L96.98 321.47 L97.59 321.56 L98.2 321.64 L98.81 321.71 L99.42 321.78 L100.03 321.84 L100.64 321.9 L101.25 321.95 L101.87 322 L102.48 322.04 L103.09 322.08 L103.7 322.12 L104.31 322.15 L104.92 322.18 L105.53 322.21 L106.15 322.23 L106.76 322.25 L107.37 322.27 L107.98 322.29 L108.59 322.3 L109.2 322.31 L109.81 322.33 L110.42 322.34 L111.03 322.34 L111.65 322.35 L112.26 322.36 L112.87 322.36 L113.48 322.37 L114.09 322.37 L114.7 322.38 L115.31 322.38 L115.93 322.38 L116.54 322.39 L117.15 322.39 L117.76 322.39 L118.37 322.39 L118.98 322.39 L119.59 322.39 L120.2 322.4 L120.81 322.4 L121.43 322.4 L122.04 322.4 L122.65 322.4 L123.26 322.4 L123.87 322.4 L124.48 322.4 L125.09 322.4 L125.71 322.4 L126.32 322.4 L126.93 322.4 L127.54 322.4 L128.15 322.4 L128.76 322.4 L129.37 322.4 L129.98 322.4 L130.59 322.4 L131.21 322.4 L131.82 322.4 L132.43 322.4 L133.04 322.4 L133.65 322.4 L134.26 322.4 L134.87 322.4 L135.48 322.4 L136.1 322.4 L136.71 322.4 L137.32 322.4 L137.93 322.4 L138.54 322.4 L139.15 322.4 L139.76 322.4 L140.38 322.4 L140.99 322.4 L141.6 322.4 L142.21 322.4 L142.82 322.4 L143.43 322.4 L144.04 322.4 L144.65 322.4 L145.26 322.4 L145.88 322.4 L146.49 322.4 L147.1 322.4 L147.71 322.4 L148.32 322.4 L148.93 322.4 L149.54 322.4 L150.16 322.4 L150.77 322.4 L151.38 322.4 L151.99 322.4 L152.6 322.4" fill="none" stroke="#1573d3" stroke-width="1.3" stroke-linejoin="round"/>
<path d="M57.81 317.36 L58.42 317.13 L59.03 316.9 L59.64 316.67 L60.25 316.44 L60.86 316.21 L61.47 315.98 L62.09 315.75 L62.7 315.52 L63.31 315.29 L63.92 315.06 L64.53 314.82 L65.14 314.58 L65.75 314.34 L66.36 314.09 L66.97 313.83 L67.59 313.55 L68.2 313.26 L68.81 312.96 L69.42 312.63 L70.03 312.27 L70.64 311.9 L71.25 311.49 L71.87 311.04 L72.48 310.57 L73.09 310.06 L73.7 309.51 L74.31 308.93 L74.92 308.31 L75.53 307.66 L76.14 306.98 L76.75 306.29 L77.37 305.57 L77.98 304.84 L78.59 304.12 L79.2 303.4 L79.81 302.69 L80.42 302.01 L81.03 301.37 L81.65 300.77 L82.26 300.22 L82.87 299.72 L83.48 299.29 L84.09 298.92 L84.7 298.61 L85.31 298.37 L85.92 298.17 L86.53 298.01 L87.15 297.89 L87.76 297.77 L88.37 297.64 L88.98 297.47 L89.59 297.23 L90.2 296.91 L90.81 296.45 L91.42 295.84 L92.04 295.03 L92.65 293.99 L93.26 292.69 L93.87 291.11 L94.48 289.21 L95.09 286.97 L95.7 284.38 L96.32 281.43 L96.93 278.11 L97.54 274.43 L98.15 270.4 L98.76 266.05 L99.37 261.42 L99.98 256.53 L100.59 251.45 L101.2 246.23 L101.82 240.93 L102.43 235.64 L103.04 230.42 L103.65 225.36 L104.26 220.54 L104.87 216.03 L105.48 211.92 L106.1 208.28 L106.71 205.18 L107.32 202.67 L107.93 200.81 L108.54 199.62 L109.15 199.15 L109.76 199.37 L110.37 200.26" fill="none" stroke="#111" stroke-width="1.4" stroke-dasharray="2.7 1.25"/>
<text x="74.5" y="211.7" font-size="9.6" fill="#1a1a1a">O<tspan class="s" font-size="6.9" dy="2.7">lattice</tspan></text>
<text x="66.2" y="223.2" font-size="9.65" fill="#1a1a1a">529.83 eV</text>
<path d="M87.4 205.5L103.58 201.05" stroke="#111" stroke-width="1.4" fill="none"/>
<path d="M109.37 199.46L104.11 202.98L103.05 199.12Z" fill="#111"/>
<text x="60.2" y="266.8" font-size="9.6" fill="#1a1a1a">O<tspan class="s" font-size="6.9" dy="2.7">surface1</tspan></text>
<text x="54.1" y="277.9" font-size="9.65" fill="#1a1a1a">531.35 eV</text>
<path d="M75.9 279.3L83.05 297.65" stroke="#111" stroke-width="1.4" fill="none"/>
<path d="M85.23 303.24L81.18 298.37L84.91 296.92Z" fill="#111"/>
<text x="47" y="288.6" font-size="9.6" fill="#1a1a1a">O<tspan class="s" font-size="6.9" dy="2.7">surface2</tspan></text>
<text x="41.7" y="299.4" font-size="9.65" fill="#1a1a1a">532.37 eV</text>
<path d="M60.5 294.5L65.38 308.1" stroke="#111" stroke-width="1.4" fill="none"/>
<path d="M67.4 313.75L63.5 308.77L67.26 307.42Z" fill="#111"/>
</g>
<g>
<path d="M206.2 198H328.3V329.2" fill="none" stroke="#505050" stroke-width="1.15"/>
<path d="M206.2 197.6V329.2H328.3" fill="none" stroke="#4d4d4d" stroke-width="1"/>
<path d="M203.6 329.2H206.2M203.6 310.46H206.2M203.6 291.71H206.2M203.6 272.97H206.2M203.6 254.23H206.2M203.6 235.49H206.2M203.6 216.74H206.2M203.6 198H206.2M206.2 329.2V331.8M221.46 329.2V331.8M236.72 329.2V331.8M251.99 329.2V331.8M267.25 329.2V331.8M282.51 329.2V331.8M297.77 329.2V331.8M313.04 329.2V331.8M328.3 329.2V331.8" fill="none" stroke="#4d4d4d" stroke-width="1"/>
<g fill="#1a1a1a">
<g text-anchor="end" font-size="7.45">
<text transform="translate(200.5 331.8) scale(.895 1)">0</text>
<text transform="translate(200.5 313.06) scale(.895 1)">20</text>
<text transform="translate(200.5 294.31) scale(.895 1)">40</text>
<text transform="translate(200.5 275.57) scale(.895 1)">60</text>
<text transform="translate(200.5 256.83) scale(.895 1)">80</text>
<text transform="translate(200.5 238.09) scale(.895 1)">100</text>
<text transform="translate(200.5 219.34) scale(.895 1)">120</text>
<text transform="translate(200.5 200.6) scale(.895 1)">140</text>
</g><g text-anchor="middle" font-size="7.5">
<text x="206.2" y="341.15">535</text>
<text x="221.46" y="341.15">534</text>
<text x="236.72" y="341.15">533</text>
<text x="251.99" y="341.15">532</text>
<text x="267.25" y="341.15">531</text>
<text x="282.51" y="341.15">530</text>
<text x="297.77" y="341.15">529</text>
<text x="313.04" y="341.15">528</text>
<text x="328.3" y="341.15">527</text>
</g></g>
<text x="266.95" y="351.8" text-anchor="middle" font-size="8.7" fill="#1a1a1a">Binding energy / eV</text>
<text transform="translate(187.1 276.1) rotate(-90)" text-anchor="middle" font-size="8.85" fill="#1a1a1a">Counts / s×10<tspan font-size="5.4" dy="-3">3</tspan><tspan dy="3"> (Residuals x 5)</tspan></text>
<text x="209.6" y="207.5" font-size="10.8" fill="#1a1a1a">O1s</text>
<text x="257.8" y="365.9" text-anchor="middle" font-size="10" fill="#111">(<tspan font-weight="bold">f</tspan>)</text>
<path d="M206.2 329.2 L206.81 329.2 L207.42 329.2 L208.03 329.2 L208.64 329.2 L209.25 329.2 L209.86 329.2 L210.47 329.2 L211.08 329.2 L211.69 329.2 L212.3 329.2 L212.92 329.2 L213.53 329.2 L214.14 329.2 L214.75 329.2 L215.36 329.2 L215.97 329.2 L216.58 329.2 L217.19 329.2 L217.8 329.2 L218.41 329.2 L219.02 329.2 L219.63 329.2 L220.24 329.2 L220.85 329.2 L221.46 329.2 L222.07 329.2 L222.68 329.2 L223.29 329.2 L223.9 329.2 L224.52 329.2 L225.13 329.2 L225.74 329.2 L226.35 329.2 L226.96 329.2 L227.57 329.2 L228.18 329.2 L228.79 329.2 L229.4 329.2 L230.01 329.2 L230.62 329.2 L231.23 329.2 L231.84 329.2 L232.45 329.2 L233.06 329.2 L233.67 329.2 L234.28 329.2 L234.89 329.2 L235.5 329.2 L236.11 329.2 L236.72 329.2 L237.34 329.2 L237.95 329.2 L238.56 329.2 L239.17 329.2 L239.78 329.2 L240.39 329.2 L241 329.2 L241.61 329.2 L242.22 329.2 L242.83 329.2 L243.44 329.2 L244.05 329.2 L244.66 329.19 L245.27 329.19 L245.88 329.19 L246.49 329.19 L247.1 329.18 L247.71 329.17 L248.32 329.16 L248.93 329.15 L249.55 329.13 L250.16 329.11 L250.77 329.08 L251.38 329.04 L251.99 328.98 L252.6 328.92 L253.21 328.83 L253.82 328.72 L254.43 328.59 L255.04 328.41 L255.65 328.2 L256.26 327.93 L256.87 327.6 L257.48 327.2 L258.09 326.72 L258.7 326.13 L259.31 325.43 L259.92 324.6 L260.53 323.62 L261.15 322.47 L261.76 321.12 L262.37 319.57 L262.98 317.79 L263.59 315.76 L264.2 313.45 L264.81 310.87 L265.42 307.99 L266.03 304.8 L266.64 301.29 L267.25 297.48 L267.86 293.36 L268.47 288.94 L269.08 284.24 L269.69 279.3 L270.3 274.14 L270.91 268.81 L271.52 263.36 L272.13 257.85 L272.74 252.33 L273.35 246.87 L273.97 241.55 L274.58 236.45 L275.19 231.63 L275.8 227.16 L276.41 223.13 L277.02 219.6 L277.63 216.62 L278.24 214.25 L278.85 212.52 L279.46 211.47 L280.07 211.12 L280.68 211.46 L281.29 212.47 L281.9 214.14 L282.51 216.43 L283.12 219.3 L283.73 222.71 L284.34 226.59 L284.95 230.89 L285.57 235.53 L286.18 240.45 L286.79 245.57 L287.4 250.82 L288.01 256.14 L288.62 261.46 L289.23 266.73 L289.84 271.88 L290.45 276.89 L291.06 281.7 L291.67 286.29 L292.28 290.63 L292.89 294.7 L293.5 298.5 L294.11 302.01 L294.72 305.23 L295.33 308.18 L295.94 310.85 L296.55 313.25 L297.16 315.41 L297.77 317.33 L298.39 319.03 L299 320.52 L299.61 321.83 L300.22 322.97 L300.83 323.96 L301.44 324.81 L302.05 325.54 L302.66 326.16 L303.27 326.69 L303.88 327.13 L304.49 327.5 L305.1 327.82 L305.71 328.08 L306.32 328.29 L306.93 328.47 L307.54 328.61 L308.15 328.73 L308.76 328.83 L309.37 328.9 L309.98 328.97 L310.6 329.02 L311.21 329.06 L311.82 329.09 L312.43 329.11 L313.04 329.13 L313.65 329.15 L314.26 329.16 L314.87 329.17 L315.48 329.18 L316.09 329.18 L316.7 329.19 L317.31 329.19 L317.92 329.19 L318.53 329.19 L319.14 329.2 L319.75 329.2 L320.36 329.2 L320.97 329.2 L321.58 329.2 L322.2 329.2 L322.81 329.2 L323.42 329.2 L324.03 329.2 L324.64 329.2 L325.25 329.2 L325.86 329.2 L326.47 329.2 L327.08 329.2 L327.69 329.2 L328.3 329.2" fill="none" stroke="#1573d3" stroke-width="1.3" stroke-linejoin="round"/>
<path d="M206.2 329.2 L206.81 329.2 L207.42 329.2 L208.03 329.2 L208.64 329.2 L209.25 329.2 L209.86 329.2 L210.47 329.2 L211.08 329.2 L211.69 329.2 L212.3 329.2 L212.92 329.2 L213.53 329.2 L214.14 329.2 L214.75 329.2 L215.36 329.2 L215.97 329.2 L216.58 329.2 L217.19 329.2 L217.8 329.2 L218.41 329.2 L219.02 329.2 L219.63 329.2 L220.24 329.2 L220.85 329.2 L221.46 329.2 L222.07 329.2 L222.68 329.2 L223.29 329.2 L223.9 329.2 L224.52 329.2 L225.13 329.2 L225.74 329.2 L226.35 329.2 L226.96 329.2 L227.57 329.2 L228.18 329.2 L228.79 329.2 L229.4 329.2 L230.01 329.2 L230.62 329.2 L231.23 329.2 L231.84 329.2 L232.45 329.2 L233.06 329.2 L233.67 329.19 L234.28 329.19 L234.89 329.19 L235.5 329.18 L236.11 329.17 L236.72 329.16 L237.34 329.14 L237.95 329.12 L238.56 329.09 L239.17 329.06 L239.78 329.01 L240.39 328.94 L241 328.86 L241.61 328.76 L242.22 328.63 L242.83 328.48 L243.44 328.28 L244.05 328.05 L244.66 327.76 L245.27 327.43 L245.88 327.03 L246.49 326.57 L247.1 326.04 L247.71 325.43 L248.32 324.75 L248.93 323.99 L249.55 323.16 L250.16 322.25 L250.77 321.28 L251.38 320.25 L251.99 319.18 L252.6 318.08 L253.21 316.97 L253.82 315.86 L254.43 314.79 L255.04 313.76 L255.65 312.81 L256.26 311.95 L256.87 311.21 L257.48 310.6 L258.09 310.14 L258.7 309.84 L259.31 309.71 L259.92 309.76 L260.53 309.97 L261.15 310.35 L261.76 310.89 L262.37 311.56 L262.98 312.37 L263.59 313.27 L264.2 314.27 L264.81 315.32 L265.42 316.41 L266.03 317.53 L266.64 318.63 L267.25 319.72 L267.86 320.77 L268.47 321.77 L269.08 322.71 L269.69 323.59 L270.3 324.38 L270.91 325.1 L271.52 325.75 L272.13 326.31 L272.74 326.81 L273.35 327.24 L273.97 327.6 L274.58 327.91 L275.19 328.17 L275.8 328.38 L276.41 328.56 L277.02 328.7 L277.63 328.82 L278.24 328.91 L278.85 328.98 L279.46 329.03 L280.07 329.08 L280.68 329.11 L281.29 329.13 L281.9 329.15 L282.51 329.16 L283.12 329.18 L283.73 329.18 L284.34 329.19 L284.95 329.19 L285.57 329.19 L286.18 329.2 L286.79 329.2 L287.4 329.2 L288.01 329.2 L288.62 329.2 L289.23 329.2 L289.84 329.2 L290.45 329.2 L291.06 329.2 L291.67 329.2 L292.28 329.2 L292.89 329.2 L293.5 329.2 L294.11 329.2 L294.72 329.2 L295.33 329.2 L295.94 329.2 L296.55 329.2 L297.16 329.2 L297.77 329.2 L298.39 329.2 L299 329.2 L299.61 329.2 L300.22 329.2 L300.83 329.2 L301.44 329.2 L302.05 329.2 L302.66 329.2 L303.27 329.2 L303.88 329.2 L304.49 329.2 L305.1 329.2 L305.71 329.2 L306.32 329.2 L306.93 329.2 L307.54 329.2 L308.15 329.2 L308.76 329.2 L309.37 329.2 L309.98 329.2 L310.6 329.2 L311.21 329.2 L311.82 329.2 L312.43 329.2 L313.04 329.2 L313.65 329.2 L314.26 329.2 L314.87 329.2 L315.48 329.2 L316.09 329.2 L316.7 329.2 L317.31 329.2 L317.92 329.2 L318.53 329.2 L319.14 329.2 L319.75 329.2 L320.36 329.2 L320.97 329.2 L321.58 329.2 L322.2 329.2 L322.81 329.2 L323.42 329.2 L324.03 329.2 L324.64 329.2 L325.25 329.2 L325.86 329.2 L326.47 329.2 L327.08 329.2 L327.69 329.2 L328.3 329.2" fill="none" stroke="#1573d3" stroke-width="1.3" stroke-linejoin="round"/>
<path d="M206.2 329 L206.81 328.97 L207.42 328.93 L208.03 328.89 L208.64 328.85 L209.25 328.81 L209.86 328.75 L210.47 328.69 L211.08 328.63 L211.69 328.56 L212.3 328.47 L212.92 328.39 L213.53 328.29 L214.14 328.18 L214.75 328.06 L215.36 327.93 L215.97 327.79 L216.58 327.64 L217.19 327.47 L217.8 327.29 L218.41 327.09 L219.02 326.88 L219.63 326.65 L220.24 326.41 L220.85 326.15 L221.46 325.87 L222.07 325.57 L222.68 325.25 L223.29 324.92 L223.9 324.56 L224.52 324.19 L225.13 323.79 L225.74 323.38 L226.35 322.95 L226.96 322.5 L227.57 322.03 L228.18 321.55 L228.79 321.04 L229.4 320.53 L230.01 320 L230.62 319.45 L231.23 318.9 L231.84 318.34 L232.45 317.76 L233.06 317.19 L233.67 316.61 L234.28 316.03 L234.89 315.45 L235.5 314.87 L236.11 314.3 L236.72 313.74 L237.34 313.19 L237.95 312.65 L238.56 312.14 L239.17 311.64 L239.78 311.16 L240.39 310.71 L241 310.29 L241.61 309.9 L242.22 309.54 L242.83 309.21 L243.44 308.92 L244.05 308.67 L244.66 308.46 L245.27 308.29 L245.88 308.16 L246.49 308.07 L247.1 308.03 L247.71 308.03 L248.32 308.07 L248.93 308.16 L249.55 308.29 L250.16 308.46 L250.77 308.67 L251.38 308.92 L251.99 309.21 L252.6 309.54 L253.21 309.9 L253.82 310.29 L254.43 310.71 L255.04 311.16 L255.65 311.64 L256.26 312.14 L256.87 312.65 L257.48 313.19 L258.09 313.74 L258.7 314.3 L259.31 314.87 L259.92 315.45 L260.53 316.03 L261.15 316.61 L261.76 317.19 L262.37 317.76 L262.98 318.34 L263.59 318.9 L264.2 319.45 L264.81 320 L265.42 320.53 L266.03 321.04 L266.64 321.55 L267.25 322.03 L267.86 322.5 L268.47 322.95 L269.08 323.38 L269.69 323.79 L270.3 324.19 L270.91 324.56 L271.52 324.92 L272.13 325.25 L272.74 325.57 L273.35 325.87 L273.97 326.15 L274.58 326.41 L275.19 326.65 L275.8 326.88 L276.41 327.09 L277.02 327.29 L277.63 327.47 L278.24 327.64 L278.85 327.79 L279.46 327.93 L280.07 328.06 L280.68 328.18 L281.29 328.29 L281.9 328.39 L282.51 328.47 L283.12 328.56 L283.73 328.63 L284.34 328.69 L284.95 328.75 L285.57 328.81 L286.18 328.85 L286.79 328.89 L287.4 328.93 L288.01 328.97 L288.62 329 L289.23 329.02 L289.84 329.04 L290.45 329.07 L291.06 329.08 L291.67 329.1 L292.28 329.11 L292.89 329.12 L293.5 329.14 L294.11 329.14 L294.72 329.15 L295.33 329.16 L295.94 329.17 L296.55 329.17 L297.16 329.17 L297.77 329.18 L298.39 329.18 L299 329.18 L299.61 329.19 L300.22 329.19 L300.83 329.19 L301.44 329.19 L302.05 329.19 L302.66 329.19 L303.27 329.2 L303.88 329.2 L304.49 329.2 L305.1 329.2 L305.71 329.2 L306.32 329.2 L306.93 329.2 L307.54 329.2 L308.15 329.2 L308.76 329.2 L309.37 329.2 L309.98 329.2 L310.6 329.2 L311.21 329.2 L311.82 329.2 L312.43 329.2 L313.04 329.2 L313.65 329.2 L314.26 329.2 L314.87 329.2 L315.48 329.2 L316.09 329.2 L316.7 329.2 L317.31 329.2 L317.92 329.2 L318.53 329.2 L319.14 329.2 L319.75 329.2 L320.36 329.2 L320.97 329.2 L321.58 329.2 L322.2 329.2 L322.81 329.2 L323.42 329.2 L324.03 329.2 L324.64 329.2 L325.25 329.2 L325.86 329.2 L326.47 329.2 L327.08 329.2 L327.69 329.2 L328.3 329.2" fill="none" stroke="#1573d3" stroke-width="1.3" stroke-linejoin="round"/>
<path d="M242.78 308.19 L243.39 307.7 L244 307.21 L244.61 306.72 L245.22 306.21 L245.83 305.68 L246.44 305.13 L247.05 304.55 L247.66 303.93 L248.27 303.28 L248.88 302.6 L249.5 301.88 L250.11 301.12 L250.72 300.33 L251.33 299.51 L251.94 298.68 L252.55 297.84 L253.16 297 L253.77 296.18 L254.38 295.38 L254.99 294.64 L255.6 293.94 L256.21 293.32 L256.82 292.77 L257.43 292.29 L258.04 291.9 L258.65 291.58 L259.26 291.32 L259.87 291.1 L260.48 290.91 L261.1 290.72 L261.71 290.5 L262.32 290.2 L262.93 289.79 L263.54 289.23 L264.15 288.47 L264.76 287.49 L265.37 286.23 L265.98 284.67 L266.59 282.78 L267.2 280.53 L267.81 277.93 L268.42 274.96 L269.03 271.64 L269.64 267.98 L270.25 264.01 L270.86 259.78 L271.47 255.32 L272.08 250.71 L272.69 246 L273.3 241.28 L273.92 236.6 L274.53 232.07 L275.14 227.75 L275.75 223.73 L276.36 220.09 L276.97 216.89 L277.58 214.2 L278.19 212.09 L278.8 210.59 L279.41 209.74 L280.02 209.56 L280.63 210.05 L281.24 211.19" fill="none" stroke="#111" stroke-width="1.4" stroke-dasharray="2.7 1.25"/>
<text x="239" y="225.3" font-size="9.6" fill="#1a1a1a">O<tspan class="s" font-size="6.9" dy="2.7">lattice</tspan></text>
<text x="230.6" y="236.4" font-size="9.65" fill="#1a1a1a">530.13 eV</text>
<path d="M255.5 216.9L275.5 211.2" stroke="#111" stroke-width="1.4" fill="none"/>
<path d="M281.27 209.55L276.04 213.12L274.95 209.28Z" fill="#111"/>
<text x="231.4" y="262.5" font-size="9.6" fill="#1a1a1a">O<tspan class="s" font-size="6.9" dy="2.7">surface1</tspan></text>
<text x="225.6" y="272.8" font-size="9.65" fill="#1a1a1a">531.51 eV</text>
<path d="M247.2 275.9L257.17 303.6" stroke="#111" stroke-width="1.4" fill="none"/>
<path d="M259.2 309.25L255.29 304.28L259.05 302.92Z" fill="#111"/>
<text x="212.8" y="283.1" font-size="9.6" fill="#1a1a1a">O<tspan class="s" font-size="6.9" dy="2.7">surface2</tspan></text>
<text x="207.5" y="294" font-size="9.65" fill="#1a1a1a">532.28 eV</text>
<path d="M232.8 298.9L240.02 304.33" stroke="#111" stroke-width="1.4" fill="none"/>
<path d="M244.82 307.94L238.82 305.93L241.23 302.74Z" fill="#111"/>
</g>
<g>
<path d="M117.6 376.4H240.5V507.4" fill="none" stroke="#505050" stroke-width="1.15"/>
<path d="M117.6 376V507.4H240.5" fill="none" stroke="#4d4d4d" stroke-width="1"/>
<path d="M115 507.4H117.6M115 494.3H117.6M115 481.2H117.6M115 468.1H117.6M115 455H117.6M115 441.9H117.6M115 428.8H117.6M115 415.7H117.6M115 402.6H117.6M115 389.5H117.6M115 376.4H117.6M117.6 507.4V510M132.96 507.4V510M148.32 507.4V510M163.69 507.4V510M179.05 507.4V510M194.41 507.4V510M209.78 507.4V510M225.14 507.4V510M240.5 507.4V510" fill="none" stroke="#4d4d4d" stroke-width="1"/>
<g fill="#1a1a1a">
<g text-anchor="end" font-size="7.45">
<text transform="translate(111.9 510) scale(.895 1)">0</text>
<text transform="translate(111.9 496.9) scale(.895 1)">20</text>
<text transform="translate(111.9 483.8) scale(.895 1)">40</text>
<text transform="translate(111.9 470.7) scale(.895 1)">60</text>
<text transform="translate(111.9 457.6) scale(.895 1)">80</text>
<text transform="translate(111.9 444.5) scale(.895 1)">100</text>
<text transform="translate(111.9 431.4) scale(.895 1)">120</text>
<text transform="translate(111.9 418.3) scale(.895 1)">140</text>
<text transform="translate(111.9 405.2) scale(.895 1)">160</text>
<text transform="translate(111.9 392.1) scale(.895 1)">180</text>
<text transform="translate(111.9 379) scale(.895 1)">200</text>
</g><g text-anchor="middle" font-size="7.5">
<text x="117.6" y="519.35">535</text>
<text x="132.96" y="519.35">534</text>
<text x="148.32" y="519.35">533</text>
<text x="163.69" y="519.35">532</text>
<text x="179.05" y="519.35">531</text>
<text x="194.41" y="519.35">530</text>
<text x="209.78" y="519.35">529</text>
<text x="225.14" y="519.35">528</text>
<text x="240.5" y="519.35">527</text>
</g></g>
<text x="178.75" y="530" text-anchor="middle" font-size="8.7" fill="#1a1a1a">Binding energy / eV</text>
<text transform="translate(98.5 454.4) rotate(-90)" text-anchor="middle" font-size="8.85" fill="#1a1a1a">Counts / s×10<tspan font-size="5.4" dy="-3">3</tspan><tspan dy="3"> (Residuals x 5)</tspan></text>
<text x="121" y="385.9" font-size="10.8" fill="#1a1a1a">O1s</text>
<text x="169.5" y="544.2" text-anchor="middle" font-size="10" fill="#111">(<tspan font-weight="bold">g</tspan>)</text>
<path d="M117.6 507.4 L118.21 507.4 L118.83 507.4 L119.44 507.4 L120.06 507.4 L120.67 507.4 L121.29 507.4 L121.9 507.4 L122.52 507.4 L123.13 507.4 L123.74 507.4 L124.36 507.4 L124.97 507.4 L125.59 507.4 L126.2 507.4 L126.82 507.4 L127.43 507.4 L128.05 507.4 L128.66 507.4 L129.28 507.4 L129.89 507.4 L130.5 507.4 L131.12 507.4 L131.73 507.4 L132.35 507.4 L132.96 507.4 L133.58 507.4 L134.19 507.4 L134.81 507.4 L135.42 507.4 L136.04 507.4 L136.65 507.4 L137.26 507.4 L137.88 507.4 L138.49 507.4 L139.11 507.4 L139.72 507.4 L140.34 507.4 L140.95 507.4 L141.57 507.4 L142.18 507.4 L142.79 507.4 L143.41 507.4 L144.02 507.4 L144.64 507.4 L145.25 507.4 L145.87 507.4 L146.48 507.4 L147.1 507.4 L147.71 507.4 L148.32 507.4 L148.94 507.4 L149.55 507.4 L150.17 507.4 L150.78 507.4 L151.4 507.4 L152.01 507.4 L152.63 507.4 L153.24 507.4 L153.86 507.4 L154.47 507.4 L155.08 507.4 L155.7 507.4 L156.31 507.4 L156.93 507.4 L157.54 507.4 L158.16 507.4 L158.77 507.4 L159.39 507.4 L160 507.4 L160.61 507.4 L161.23 507.4 L161.84 507.4 L162.46 507.4 L163.07 507.4 L163.69 507.4 L164.3 507.39 L164.92 507.39 L165.53 507.39 L166.15 507.38 L166.76 507.38 L167.37 507.37 L167.99 507.35 L168.6 507.34 L169.22 507.31 L169.83 507.29 L170.45 507.25 L171.06 507.2 L171.68 507.14 L172.29 507.05 L172.91 506.95 L173.52 506.82 L174.13 506.65 L174.75 506.45 L175.36 506.19 L175.98 505.88 L176.59 505.49 L177.21 505.02 L177.82 504.46 L178.44 503.78 L179.05 502.97 L179.66 502.01 L180.28 500.89 L180.89 499.58 L181.51 498.06 L182.12 496.32 L182.74 494.33 L183.35 492.07 L183.97 489.54 L184.58 486.71 L185.19 483.58 L185.81 480.14 L186.42 476.39 L187.04 472.34 L187.65 468.01 L188.27 463.4 L188.88 458.55 L189.5 453.5 L190.11 448.28 L190.73 442.95 L191.34 437.56 L191.95 432.18 L192.57 426.87 L193.18 421.71 L193.8 416.77 L194.41 412.12 L195.03 407.84 L195.64 404 L196.26 400.66 L196.87 397.87 L197.49 395.69 L198.1 394.16 L198.71 393.3 L199.33 393.12 L199.94 393.61 L200.56 394.73 L201.17 396.47 L201.79 398.8 L202.4 401.67 L203.02 405.05 L203.63 408.86 L204.24 413.06 L204.86 417.57 L205.47 422.33 L206.09 427.27 L206.7 432.33 L207.32 437.44 L207.93 442.55 L208.55 447.6 L209.16 452.53 L209.78 457.32 L210.39 461.92 L211 466.3 L211.62 470.45 L212.23 474.33 L212.85 477.96 L213.46 481.31 L214.08 484.39 L214.69 487.2 L215.31 489.75 L215.92 492.05 L216.53 494.11 L217.15 495.95 L217.76 497.58 L218.38 499.01 L218.99 500.27 L219.61 501.37 L220.22 502.32 L220.84 503.13 L221.45 503.84 L222.06 504.44 L222.68 504.95 L223.29 505.38 L223.91 505.74 L224.52 506.04 L225.14 506.29 L225.75 506.5 L226.37 506.68 L226.98 506.82 L227.6 506.93 L228.21 507.03 L228.82 507.11 L229.44 507.17 L230.05 507.22 L230.67 507.26 L231.28 507.29 L231.9 507.31 L232.51 507.33 L233.13 507.35 L233.74 507.36 L234.36 507.37 L234.97 507.38 L235.58 507.38 L236.2 507.39 L236.81 507.39 L237.43 507.39 L238.04 507.39 L238.66 507.4 L239.27 507.4 L239.89 507.4 L240.5 507.4" fill="none" stroke="#1573d3" stroke-width="1.3" stroke-linejoin="round"/>
<path d="M117.6 507.4 L118.21 507.4 L118.83 507.4 L119.44 507.4 L120.06 507.4 L120.67 507.4 L121.29 507.4 L121.9 507.4 L122.52 507.4 L123.13 507.4 L123.74 507.4 L124.36 507.4 L124.97 507.4 L125.59 507.4 L126.2 507.4 L126.82 507.4 L127.43 507.4 L128.05 507.4 L128.66 507.4 L129.28 507.4 L129.89 507.4 L130.5 507.4 L131.12 507.4 L131.73 507.4 L132.35 507.4 L132.96 507.4 L133.58 507.4 L134.19 507.4 L134.81 507.4 L135.42 507.4 L136.04 507.4 L136.65 507.4 L137.26 507.4 L137.88 507.4 L138.49 507.4 L139.11 507.4 L139.72 507.4 L140.34 507.4 L140.95 507.4 L141.57 507.4 L142.18 507.4 L142.79 507.4 L143.41 507.4 L144.02 507.4 L144.64 507.4 L145.25 507.4 L145.87 507.4 L146.48 507.4 L147.1 507.4 L147.71 507.4 L148.32 507.4 L148.94 507.4 L149.55 507.4 L150.17 507.4 L150.78 507.4 L151.4 507.4 L152.01 507.4 L152.63 507.4 L153.24 507.4 L153.86 507.4 L154.47 507.4 L155.08 507.4 L155.7 507.4 L156.31 507.4 L156.93 507.4 L157.54 507.39 L158.16 507.39 L158.77 507.39 L159.39 507.38 L160 507.38 L160.61 507.37 L161.23 507.36 L161.84 507.34 L162.46 507.32 L163.07 507.29 L163.69 507.25 L164.3 507.21 L164.92 507.14 L165.53 507.07 L166.15 506.97 L166.76 506.85 L167.37 506.7 L167.99 506.52 L168.6 506.31 L169.22 506.05 L169.83 505.75 L170.45 505.4 L171.06 505 L171.68 504.55 L172.29 504.04 L172.91 503.47 L173.52 502.86 L174.13 502.2 L174.75 501.49 L175.36 500.76 L175.98 500 L176.59 499.23 L177.21 498.46 L177.82 497.71 L178.44 497 L179.05 496.35 L179.66 495.76 L180.28 495.25 L180.89 494.84 L181.51 494.55 L182.12 494.36 L182.74 494.3 L183.35 494.36 L183.97 494.55 L184.58 494.84 L185.19 495.25 L185.81 495.76 L186.42 496.35 L187.04 497 L187.65 497.71 L188.27 498.46 L188.88 499.23 L189.5 500 L190.11 500.76 L190.73 501.49 L191.34 502.2 L191.95 502.86 L192.57 503.47 L193.18 504.04 L193.8 504.55 L194.41 505 L195.03 505.4 L195.64 505.75 L196.26 506.05 L196.87 506.31 L197.49 506.52 L198.1 506.7 L198.71 506.85 L199.33 506.97 L199.94 507.07 L200.56 507.14 L201.17 507.21 L201.79 507.25 L202.4 507.29 L203.02 507.32 L203.63 507.34 L204.24 507.36 L204.86 507.37 L205.47 507.38 L206.09 507.38 L206.7 507.39 L207.32 507.39 L207.93 507.39 L208.55 507.4 L209.16 507.4 L209.78 507.4 L210.39 507.4 L211 507.4 L211.62 507.4 L212.23 507.4 L212.85 507.4 L213.46 507.4 L214.08 507.4 L214.69 507.4 L215.31 507.4 L215.92 507.4 L216.53 507.4 L217.15 507.4 L217.76 507.4 L218.38 507.4 L218.99 507.4 L219.61 507.4 L220.22 507.4 L220.84 507.4 L221.45 507.4 L222.06 507.4 L222.68 507.4 L223.29 507.4 L223.91 507.4 L224.52 507.4 L225.14 507.4 L225.75 507.4 L226.37 507.4 L226.98 507.4 L227.6 507.4 L228.21 507.4 L228.82 507.4 L229.44 507.4 L230.05 507.4 L230.67 507.4 L231.28 507.4 L231.9 507.4 L232.51 507.4 L233.13 507.4 L233.74 507.4 L234.36 507.4 L234.97 507.4 L235.58 507.4 L236.2 507.4 L236.81 507.4 L237.43 507.4 L238.04 507.4 L238.66 507.4 L239.27 507.4 L239.89 507.4 L240.5 507.4" fill="none" stroke="#1573d3" stroke-width="1.3" stroke-linejoin="round"/>
<path d="M117.6 507.39 L118.21 507.39 L118.83 507.38 L119.44 507.38 L120.06 507.38 L120.67 507.37 L121.29 507.37 L121.9 507.36 L122.52 507.35 L123.13 507.35 L123.74 507.34 L124.36 507.32 L124.97 507.31 L125.59 507.3 L126.2 507.28 L126.82 507.26 L127.43 507.24 L128.05 507.21 L128.66 507.18 L129.28 507.15 L129.89 507.12 L130.5 507.07 L131.12 507.03 L131.73 506.98 L132.35 506.92 L132.96 506.86 L133.58 506.78 L134.19 506.71 L134.81 506.62 L135.42 506.52 L136.04 506.42 L136.65 506.3 L137.26 506.18 L137.88 506.04 L138.49 505.89 L139.11 505.73 L139.72 505.56 L140.34 505.38 L140.95 505.18 L141.57 504.97 L142.18 504.74 L142.79 504.5 L143.41 504.25 L144.02 503.98 L144.64 503.7 L145.25 503.41 L145.87 503.11 L146.48 502.79 L147.1 502.46 L147.71 502.12 L148.32 501.78 L148.94 501.42 L149.55 501.06 L150.17 500.69 L150.78 500.32 L151.4 499.94 L152.01 499.57 L152.63 499.2 L153.24 498.83 L153.86 498.47 L154.47 498.12 L155.08 497.77 L155.7 497.44 L156.31 497.12 L156.93 496.82 L157.54 496.54 L158.16 496.28 L158.77 496.04 L159.39 495.82 L160 495.63 L160.61 495.47 L161.23 495.33 L161.84 495.22 L162.46 495.15 L163.07 495.1 L163.69 495.09 L164.3 495.1 L164.92 495.15 L165.53 495.22 L166.15 495.33 L166.76 495.47 L167.37 495.63 L167.99 495.82 L168.6 496.04 L169.22 496.28 L169.83 496.54 L170.45 496.82 L171.06 497.12 L171.68 497.44 L172.29 497.77 L172.91 498.12 L173.52 498.47 L174.13 498.83 L174.75 499.2 L175.36 499.57 L175.98 499.94 L176.59 500.32 L177.21 500.69 L177.82 501.06 L178.44 501.42 L179.05 501.78 L179.66 502.12 L180.28 502.46 L180.89 502.79 L181.51 503.11 L182.12 503.41 L182.74 503.7 L183.35 503.98 L183.97 504.25 L184.58 504.5 L185.19 504.74 L185.81 504.97 L186.42 505.18 L187.04 505.38 L187.65 505.56 L188.27 505.73 L188.88 505.89 L189.5 506.04 L190.11 506.18 L190.73 506.3 L191.34 506.42 L191.95 506.52 L192.57 506.62 L193.18 506.71 L193.8 506.78 L194.41 506.86 L195.03 506.92 L195.64 506.98 L196.26 507.03 L196.87 507.07 L197.49 507.12 L198.1 507.15 L198.71 507.18 L199.33 507.21 L199.94 507.24 L200.56 507.26 L201.17 507.28 L201.79 507.3 L202.4 507.31 L203.02 507.32 L203.63 507.34 L204.24 507.35 L204.86 507.35 L205.47 507.36 L206.09 507.37 L206.7 507.37 L207.32 507.38 L207.93 507.38 L208.55 507.38 L209.16 507.39 L209.78 507.39 L210.39 507.39 L211 507.39 L211.62 507.39 L212.23 507.39 L212.85 507.4 L213.46 507.4 L214.08 507.4 L214.69 507.4 L215.31 507.4 L215.92 507.4 L216.53 507.4 L217.15 507.4 L217.76 507.4 L218.38 507.4 L218.99 507.4 L219.61 507.4 L220.22 507.4 L220.84 507.4 L221.45 507.4 L222.06 507.4 L222.68 507.4 L223.29 507.4 L223.91 507.4 L224.52 507.4 L225.14 507.4 L225.75 507.4 L226.37 507.4 L226.98 507.4 L227.6 507.4 L228.21 507.4 L228.82 507.4 L229.44 507.4 L230.05 507.4 L230.67 507.4 L231.28 507.4 L231.9 507.4 L232.51 507.4 L233.13 507.4 L233.74 507.4 L234.36 507.4 L234.97 507.4 L235.58 507.4 L236.2 507.4 L236.81 507.4 L237.43 507.4 L238.04 507.4 L238.66 507.4 L239.27 507.4 L239.89 507.4 L240.5 507.4" fill="none" stroke="#1573d3" stroke-width="1.3" stroke-linejoin="round"/>
<path d="M161.18 494.99 L161.79 494.86 L162.41 494.76 L163.02 494.69 L163.64 494.64 L164.25 494.6 L164.87 494.58 L165.48 494.58 L166.1 494.58 L166.71 494.59 L167.32 494.6 L167.94 494.6 L168.55 494.58 L169.17 494.54 L169.78 494.48 L170.4 494.37 L171.01 494.22 L171.63 494.02 L172.24 493.76 L172.86 493.44 L173.47 493.05 L174.08 492.58 L174.7 492.04 L175.31 491.42 L175.93 490.72 L176.54 489.93 L177.16 489.07 L177.77 488.13 L178.39 487.1 L179 485.99 L179.61 484.79 L180.23 483.5 L180.84 482.11 L181.46 480.61 L182.07 478.99 L182.69 477.23 L183.3 475.32 L183.92 473.23 L184.53 470.96 L185.14 468.47 L185.76 465.76 L186.37 462.82 L186.99 459.63 L187.6 456.18 L188.22 452.49 L188.83 448.57 L189.45 444.43 L190.06 440.11 L190.68 435.64 L191.29 431.07 L191.9 426.46 L192.52 421.86 L193.13 417.35 L193.75 413 L194.36 408.88 L194.98 405.06 L195.59 401.63 L196.21 398.64 L196.82 396.15 L197.44 394.23 L198.05 392.91 L198.66 392.23 L199.28 392.21 L199.89 392.81 L200.51 394.03" fill="none" stroke="#111" stroke-width="1.4" stroke-dasharray="2.7 1.25"/>
<text x="160.6" y="406.8" font-size="9.6" fill="#1a1a1a">O<tspan class="s" font-size="6.9" dy="2.7">lattice</tspan></text>
<text x="151.7" y="418.5" font-size="9.65" fill="#1a1a1a">529.69 eV</text>
<path d="M175.4 400L194.61 394.34" stroke="#111" stroke-width="1.4" fill="none"/>
<path d="M200.36 392.65L195.17 396.26L194.04 392.42Z" fill="#111"/>
<text x="151.9" y="447.9" font-size="9.6" fill="#1a1a1a">O<tspan class="s" font-size="6.9" dy="2.7">surface1</tspan></text>
<text x="146.4" y="458.8" font-size="9.65" fill="#1a1a1a">530.74 eV</text>
<path d="M167.8 460.9L179.7 487.15" stroke="#111" stroke-width="1.4" fill="none"/>
<path d="M182.17 492.62L177.87 487.98L181.52 486.33Z" fill="#111"/>
<text x="132.4" y="470.1" font-size="9.6" fill="#1a1a1a">O<tspan class="s" font-size="6.9" dy="2.7">surface2</tspan></text>
<text x="127.2" y="480.4" font-size="9.65" fill="#1a1a1a">531.92 eV</text>
<path d="M154 480.4L158.26 488.67" stroke="#111" stroke-width="1.4" fill="none"/>
<path d="M161.01 494L156.49 489.58L160.04 487.75Z" fill="#111"/>
</g>
</svg>
</body></html>
